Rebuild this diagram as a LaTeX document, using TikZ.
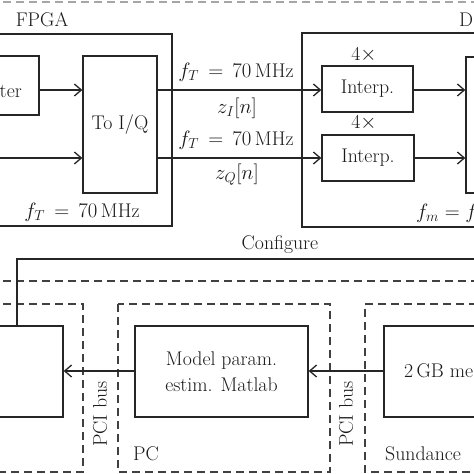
\documentclass[tikz,border=0pt]{standalone}
\usetikzlibrary{arrows.meta}
\begin{document}
\begin{tikzpicture}[x=1pt,y=-1pt,
  ink/.style={draw=black!85,line width=1.3pt},
  txt/.style={text=black!90,font=\fontsize{19.8}{23}\selectfont,inner sep=0pt},
  blk/.style={ink,txt,rectangle,inner sep=0pt,align=center},
  arr/.style={ink,-{Straight Barb[length=7pt,width=12pt,line width=1.3pt]}},
  dsh/.style={draw=black!75,line width=1.3pt,dash pattern=on 8pt off 5pt},
]
\useasboundingbox (0,0) rectangle (474,474);
\clip (0,0) rectangle (474,474);
\fill[white] (0,0) rectangle (474,474);
% top faint dashed edge
\draw[draw=black!35,line width=1.2pt,dash pattern=on 8pt off 5pt] (-10,2) -- (490,2);
% row coordinates
\coordinate (r1) at (0,90);
\coordinate (r2) at (0,158);
\coordinate (r3) at (0,371);
% FPGA board
\draw[ink] (-10,34) rectangle (172,226);
\node[txt] (fpgal) at (42,20) {FPGA};
\node[blk,minimum width=82pt,minimum height=59pt] (filt) at (-2,85.5) {};
\node[txt,anchor=east] (filtl) at (22,91) {ter};
\node[blk,minimum width=74pt,minimum height=137pt] (toiq) at (120,124.5) {To I/Q};
\node[txt] (fpgaf) at (82,212) {$f_T \,=\, 70\,$MHz};
\coordinate (in2) at (-5,158);
\draw[arr] (filt.east |- r1) -- (toiq.west |- r1);
\draw[arr] (in2) -- (toiq.west |- r2);
% DAC board
\draw[ink] (302,33) rectangle (490,227);
\node[txt,anchor=west] (dacl) at (459,20) {D};
\node[blk,minimum width=91pt,minimum height=46pt] (int1) at (367.5,89) {Interp.};
\node[blk,minimum width=92pt,minimum height=46pt] (int2) at (368,158) {Interp.};
\node[txt] (x1) at (364,55) {4$\times$};
\node[txt] (x2) at (364,123) {4$\times$};
\node[blk,minimum width=54pt,minimum height=136pt] (big) at (493,125) {};
\node[txt,anchor=west] (fm) at (416,213) {$f_m = f$};
\draw[arr] (toiq.east |- r1) -- (int1.west |- r1);
\draw[arr] (toiq.east |- r2) -- (int2.west |- r2);
\draw[arr] (int1.east |- r1) -- (big.west |- r1);
\draw[arr] (int2.east |- r2) -- (big.west |- r2);
\node[txt] (l1) at (236,72) {$f_T \,=\, 70\,$MHz};
\node[txt] (l2) at (237,108) {$z_I[n]$};
\node[txt] (l3) at (236,140) {$f_T \,=\, 70\,$MHz};
\node[txt] (l4) at (237,175) {$z_Q[n]$};
% lower part
\draw[dsh] (-10,281) -- (490,281);
\draw[dsh] (-10,304) -- (83,304) -- (83,472) -- (-10,472);
\draw[dsh] (118,304) rectangle (330,472);
\draw[dsh] (490,304) -- (365,304) -- (365,472) -- (490,472);
\node[blk,minimum width=73pt,minimum height=91pt] (left) at (26.5,371.5) {};
\node[blk,minimum width=173pt,minimum height=91pt] (model) at (221.5,371.5) {Model param.\\[3pt]estim. Matlab};
\node[blk,minimum width=106pt,minimum height=91pt] (mem) at (437,371.5) {};
\node[txt,anchor=west] (meml) at (404,371) {2\,GB me};
\coordinate (cfg) at (490,259);
\coordinate (cfgc) at (17,259);
\draw[ink] (cfg) -- (cfgc) -- (left.north -| cfgc);
\node[txt] (cfgl) at (280,245) {Configure};
\draw[arr] (mem.west |- r3) -- (model.east |- r3);
\draw[arr] (model.west |- r3) -- (left.east |- r3);
\node[txt,rotate=90] (pci1) at (100,414) {PCI bus};
\node[txt,rotate=90] (pci2) at (346,414) {PCI bus};
\node[txt] (pcl) at (146,454) {PC};
\node[txt,anchor=west] (sdl) at (385,454) {Sundance};
\end{tikzpicture}
\end{document}
